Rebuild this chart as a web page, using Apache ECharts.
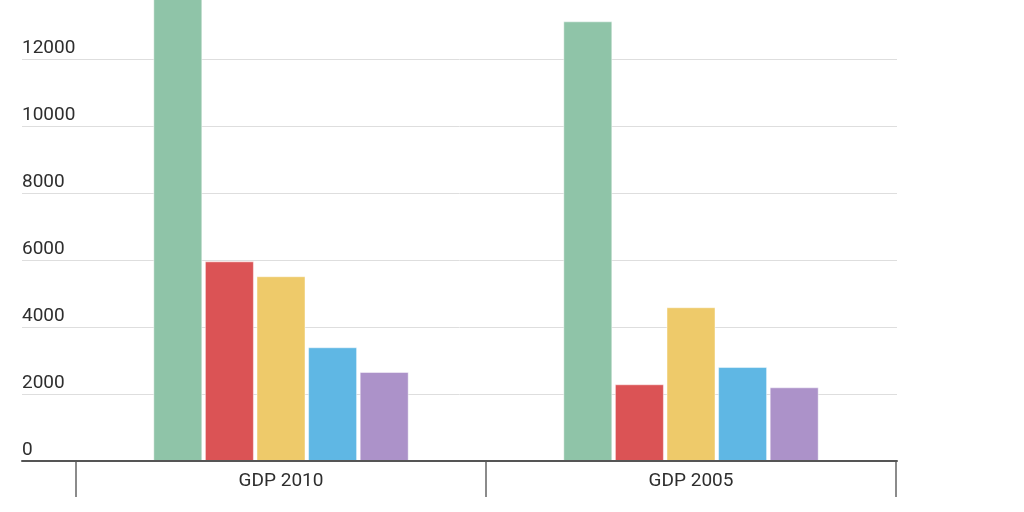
<!DOCTYPE html>
<html>
<head>
<meta charset="utf-8">
<script src="https://cdn.jsdelivr.net/npm/echarts@6/dist/echarts.min.js"></script>
<style>
  html, body { margin: 0; padding: 0; background: #fff; }
  #chart { width: 1024px; height: 512px; }
</style>
</head>
<body>
<div id="chart"></div>
<script>
// GDP, billions
var categories = ['GDP 2010', 'GDP 2005'];
var seriesNames = ['A', 'B', 'C', 'D', 'E'];
var greenVals = [14580, 13125];
var redVals = [5960, 2290];
var yellowVals = [5515, 4590];
var blueVals = [3395, 2805];
var purpleVals = [2657, 2200];
var yTicks = { min: 0, max: 14000, interval: 2000 };

var colors = ['#8FC4A8', '#DB5355', '#EECA6A', '#5FB7E4', '#AC92C9'];
var allVals = [greenVals, redVals, yellowVals, blueVals, purpleVals];

var chart = echarts.init(document.getElementById('chart'));

var series = [];
for (var i = 0; i < allVals.length; i++) {
  series.push({
    name: seriesNames[i],
    type: 'bar',
    xAxisIndex: 1,
    yAxisIndex: 1,
    barWidth: 49,
    barGap: '5.3%',
    data: allVals[i],
    itemStyle: {
      color: colors[i],
      borderColor: 'rgba(255,255,255,0.45)',
      borderWidth: 1
    }
  });
}

var option = {
  animation: false,
  textStyle: { fontFamily: 'Roboto' },
  grid: [
    { left: 22, right: 127, top: -8, bottom: 51, outerBoundsMode: 'none', containLabel: false },
    { left: 76, right: 128, top: -8, bottom: 51, outerBoundsMode: 'none', containLabel: false }
  ],
  xAxis: [{
    gridIndex: 0,
    type: 'value',
    min: 0,
    max: 1,
    axisLine: { show: true, lineStyle: { color: '#555', width: 2 } },
    axisTick: { show: false },
    axisLabel: { show: false },
    splitLine: { show: false },
    z: 5
  }, {
    gridIndex: 1,
    type: 'category',
    data: categories,
    axisLine: { show: false },
    axisTick: { show: true, length: 36, lineStyle: { color: '#666', width: 1.5 } },
    axisLabel: { color: '#2e2e2e', fontSize: 19, fontFamily: 'Roboto', margin: 11 }
  }],
  yAxis: [{
    gridIndex: 0,
    type: 'value',
    min: yTicks.min,
    max: yTicks.max,
    interval: yTicks.interval,
    axisLine: { show: false },
    axisTick: { show: false },
    axisLabel: {
      inside: true,
      margin: 0,
      align: 'left',
      verticalAlign: 'bottom',
      padding: [0, 0, 1, 0],
      color: '#2e2e2e',
      fontSize: 19,
      fontFamily: 'Roboto',
      formatter: function (v) { return String(v); }
    },
    splitLine: { lineStyle: { color: '#dedede', width: 1 } }
  }, {
    gridIndex: 1,
    type: 'value',
    min: yTicks.min,
    max: yTicks.max,
    interval: yTicks.interval,
    show: false
  }],
  series: series
};

chart.setOption(option);
</script>
</body>
</html>
